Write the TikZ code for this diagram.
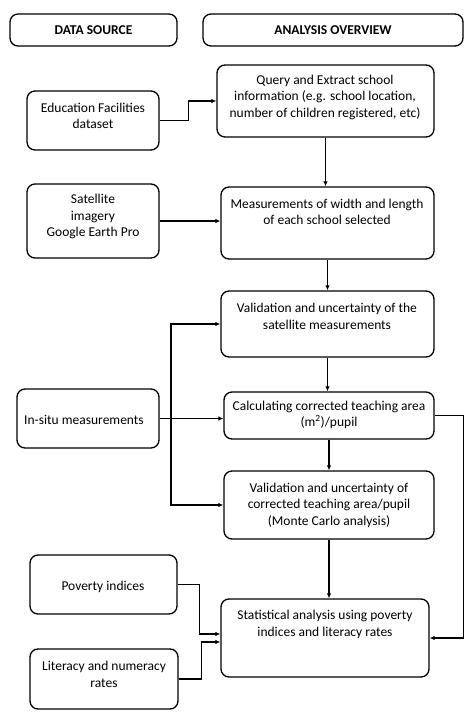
\documentclass[tikz,border=0pt]{standalone}
\usepackage{fontspec}
\setmainfont{Carlito}
\usetikzlibrary{arrows.meta,calc}
\begin{document}
\begin{tikzpicture}[x=1pt,y=-1pt,
  box/.style={draw, line width=1.3pt, rounded corners=8pt, inner sep=0pt},
  txt/.style={align=center, font=\fontsize{13.5}{16.5}\selectfont, inner sep=0pt},
  head/.style={font=\fontsize{13.5}{16}\selectfont\bfseries, inner sep=0pt},
  arr/.style={line width=1.3pt, -{Latex[length=5pt,width=4.5pt]}}]
\useasboundingbox (0,0) rectangle (474,715);
% headers
\node[box, minimum width=167pt, minimum height=32pt] (ds) at (93.5,30) {};
\node[head] (dst) at (93.5,30) {DATA SOURCE};
\node[box, minimum width=260pt, minimum height=32pt] (ao) at (333,30) {};
\node[head] (aot) at (333,30) {ANALYSIS OVERVIEW};
% analysis boxes
\node[box, minimum width=217pt, minimum height=72pt] (q) at (325.5,101) {};
\node[txt] (qt) at (325,97) {Query and Extract school\\information (e.g. school location,\\number of children registered, etc)};
\node[box, minimum width=213pt, minimum height=72pt] (meas) at (327.5,223) {};
\node[txt] (meast) at (327,212) {Measurements of width and length\\of each school selected};
\node[box, minimum width=213pt, minimum height=66pt] (val1) at (327.5,324) {};
\node[txt] (val1t) at (327,316.5) {Validation and uncertainty of the\\satellite measurements};
\node[box, minimum width=210pt, minimum height=47pt] (calc) at (329,415.5) {};
\node[txt] (calct) at (329,415) {Calculating corrected teaching area\\(m\textsuperscript{2})/pupil};
\node[box, minimum width=210pt, minimum height=68pt] (val2) at (329,505) {};
\node[txt] (val2t) at (329,505) {Validation and uncertainty of\\corrected teaching area/pupil\\(Monte Carlo analysis)};
\node[box, minimum width=208pt, minimum height=78pt] (stat) at (325,638) {};
\node[txt] (statt) at (325,624.5) {Statistical analysis using poverty\\indices and literacy rates};
% data boxes
\node[box, minimum width=132pt, minimum height=59pt] (edu) at (93,120.5) {};
\node[txt] (edut) at (93,116) {Education Facilities\\dataset};
\node[box, minimum width=132pt, minimum height=74pt] (sat) at (93,221) {};
\node[txt] (satt) at (93,216.5) {Satellite\\imagery\\Google Earth Pro};
\node[box, minimum width=142pt, minimum height=59pt] (insitu) at (88,418.5) {};
\node[txt] (insitut) at (84,420) {In-situ measurements};
\node[box, minimum width=147pt, minimum height=59pt] (pov) at (103.5,584.5) {};
\node[txt] (povt) at (103,587) {Poverty indices};
\node[box, minimum width=148pt, minimum height=60pt] (lit) at (104,679) {};
\node[txt] (litt) at (104,674.5) {Literacy and numeracy\\rates};
% connectors
\draw[arr] (edu.east) -- ++(29,0) |- (q.west);
\draw[arr] (q.south) -- (q.south |- meas.north);
\draw[arr] (sat.east) -- (sat.east -| meas.west);
\draw[arr] (meas.south) -- (meas.south |- val1.north);
\draw[arr] (val1.south) -- (val1.south |- calc.north);
\draw[arr] (calc.south) -- (calc.south |- val2.north);
\draw[arr] (val2.south) -- (val2.south |- stat.north);
\draw[arr] (insitu.east) -- (insitu.east -| calc.west);
\coordinate (split) at (171,418.5);
\draw[arr] (split) |- (val1.west);
\draw[arr] (split) |- (val2.west);
\draw[arr] (calc.east) -- ++(29,0) |- (stat.east);
\draw[arr] (pov.east) -- ++(22,0) |- ($(stat.west)+(0,-4)$);
\draw[arr] (lit.east) -- ++(23,0) |- ($(stat.west)+(0,4)$);
\end{tikzpicture}
\end{document}
